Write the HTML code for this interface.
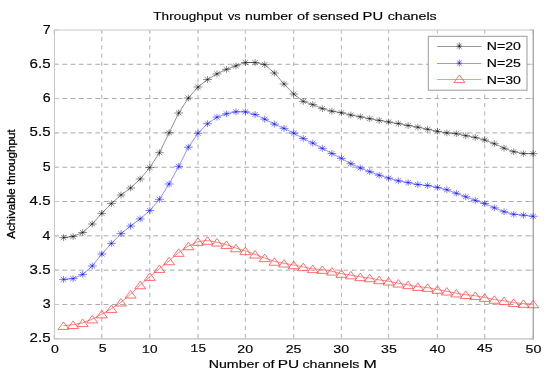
<!DOCTYPE html><html><head><meta charset="utf-8"><style>html,body{margin:0;padding:0;background:#fff;width:550px;height:375px;overflow:hidden}svg{display:block}text{font-family:"Liberation Sans",Arial,sans-serif;fill:#000;stroke:#000;stroke-width:0.15px}</style></head><body>
<svg width="550" height="375" viewBox="0 0 550 375">
<rect width="550" height="375" fill="#fff"/>
<path d="M101.80 30.00V338.90M149.80 30.00V338.90M198.00 30.00V338.90M245.40 30.00V338.90M293.70 30.00V338.90M341.40 30.00V338.90M388.60 30.00V338.90M437.40 30.00V338.90M484.70 30.00V338.90" stroke="#b0b0b0" stroke-width="1" stroke-dasharray="4.2 4.05" stroke-dashoffset="1.2" fill="none"/>
<path d="M54.0 304.48H533.30M54.0 270.17H533.30M54.0 235.85H533.30M54.0 201.53H533.30M54.0 167.22H533.30M54.0 132.90H533.30M54.0 98.58H533.30M54.0 64.27H533.30" stroke="#a8a8a8" stroke-width="1" stroke-dasharray="4.8 3.47" fill="none"/>
<path d="M54.00 338.90v-4M54.00 30.00v4M101.80 338.90v-4M101.80 30.00v4M149.80 338.90v-4M149.80 30.00v4M198.00 338.90v-4M198.00 30.00v4M245.40 338.90v-4M245.40 30.00v4M293.70 338.90v-4M293.70 30.00v4M341.40 338.90v-4M341.40 30.00v4M388.60 338.90v-4M388.60 30.00v4M437.40 338.90v-4M437.40 30.00v4M484.70 338.90v-4M484.70 30.00v4M533.10 338.90v-4M533.10 30.00v4M54.50 338.80h4M533.30 338.80h-4M54.50 304.48h4M533.30 304.48h-4M54.50 270.17h4M533.30 270.17h-4M54.50 235.85h4M533.30 235.85h-4M54.50 201.53h4M533.30 201.53h-4M54.50 167.22h4M533.30 167.22h-4M54.50 132.90h4M533.30 132.90h-4M54.50 98.58h4M533.30 98.58h-4M54.50 64.27h4M533.30 64.27h-4M54.50 29.95h4M533.30 29.95h-4" stroke="#c8c8c8" stroke-width="1" fill="none"/>
<path d="M54.5 30.0H533.3" stroke="#c8c8c8" stroke-width="1.2"/>
<path d="M54.5 338.9H533.3" stroke="#c0c0c0" stroke-width="1.2"/>
<path d="M54.5 29.4V339.5" stroke="#c8c8c8" stroke-width="1"/>
<path d="M533.3 29.4V339.5" stroke="#a8a8a8" stroke-width="1.4"/>
<polyline points="63.56,325.70 73.12,324.70 82.68,322.80 92.24,319.20 101.80,314.10 111.40,308.80 121.00,302.30 130.60,294.30 140.20,285.00 149.80,276.70 159.44,268.70 169.08,261.00 178.72,252.60 188.36,246.00 198.00,241.60 207.48,240.50 216.96,242.30 226.44,244.70 235.92,248.00 245.40,250.90 255.06,254.30 264.72,257.90 274.38,261.50 284.04,263.30 293.70,265.00 303.24,266.90 312.78,268.90 322.32,269.60 331.86,271.30 341.40,273.60 350.84,275.10 360.28,276.90 369.72,278.00 379.16,279.90 388.60,281.30 398.36,283.30 408.12,284.90 417.88,286.70 427.64,287.60 437.40,289.60 446.86,291.30 456.32,293.20 465.78,294.70 475.24,295.70 484.70,297.60 494.38,299.50 504.06,300.80 513.74,302.70 523.42,303.60 533.10,304.00" stroke="#ff7a7a" stroke-width="0.9" fill="none"/>
<path d="M63.56 321.95L69.06 329.45L58.06 329.45ZM73.12 320.95L78.62 328.45L67.62 328.45ZM82.68 319.05L88.18 326.55L77.18 326.55ZM92.24 315.45L97.74 322.95L86.74 322.95ZM101.80 310.35L107.30 317.85L96.30 317.85ZM111.40 305.05L116.90 312.55L105.90 312.55ZM121.00 298.55L126.50 306.05L115.50 306.05ZM130.60 290.55L136.10 298.05L125.10 298.05ZM140.20 281.25L145.70 288.75L134.70 288.75ZM149.80 272.95L155.30 280.45L144.30 280.45ZM159.44 264.95L164.94 272.45L153.94 272.45ZM169.08 257.25L174.58 264.75L163.58 264.75ZM178.72 248.85L184.22 256.35L173.22 256.35ZM188.36 242.25L193.86 249.75L182.86 249.75ZM198.00 237.85L203.50 245.35L192.50 245.35ZM207.48 236.75L212.98 244.25L201.98 244.25ZM216.96 238.55L222.46 246.05L211.46 246.05ZM226.44 240.95L231.94 248.45L220.94 248.45ZM235.92 244.25L241.42 251.75L230.42 251.75ZM245.40 247.15L250.90 254.65L239.90 254.65ZM255.06 250.55L260.56 258.05L249.56 258.05ZM264.72 254.15L270.22 261.65L259.22 261.65ZM274.38 257.75L279.88 265.25L268.88 265.25ZM284.04 259.55L289.54 267.05L278.54 267.05ZM293.70 261.25L299.20 268.75L288.20 268.75ZM303.24 263.15L308.74 270.65L297.74 270.65ZM312.78 265.15L318.28 272.65L307.28 272.65ZM322.32 265.85L327.82 273.35L316.82 273.35ZM331.86 267.55L337.36 275.05L326.36 275.05ZM341.40 269.85L346.90 277.35L335.90 277.35ZM350.84 271.35L356.34 278.85L345.34 278.85ZM360.28 273.15L365.78 280.65L354.78 280.65ZM369.72 274.25L375.22 281.75L364.22 281.75ZM379.16 276.15L384.66 283.65L373.66 283.65ZM388.60 277.55L394.10 285.05L383.10 285.05ZM398.36 279.55L403.86 287.05L392.86 287.05ZM408.12 281.15L413.62 288.65L402.62 288.65ZM417.88 282.95L423.38 290.45L412.38 290.45ZM427.64 283.85L433.14 291.35L422.14 291.35ZM437.40 285.85L442.90 293.35L431.90 293.35ZM446.86 287.55L452.36 295.05L441.36 295.05ZM456.32 289.45L461.82 296.95L450.82 296.95ZM465.78 290.95L471.28 298.45L460.28 298.45ZM475.24 291.95L480.74 299.45L469.74 299.45ZM484.70 293.85L490.20 301.35L479.20 301.35ZM494.38 295.75L499.88 303.25L488.88 303.25ZM504.06 297.05L509.56 304.55L498.56 304.55ZM513.74 298.95L519.24 306.45L508.24 306.45ZM523.42 299.85L528.92 307.35L517.92 307.35ZM533.10 300.25L538.60 307.75L527.60 307.75Z" stroke="#ff4a4a" stroke-width="0.8" fill="none"/>
<polyline points="63.56,279.40 73.12,278.60 82.68,274.40 92.24,266.00 101.80,254.00 111.40,243.40 121.00,233.60 130.60,226.00 140.20,218.90 149.80,210.50 159.44,199.30 169.08,184.00 178.72,166.40 188.36,147.20 198.00,133.30 207.48,123.70 216.96,117.20 226.44,113.80 235.92,111.80 245.40,111.80 255.06,114.50 264.72,119.20 274.38,124.10 284.04,128.40 293.70,133.20 303.24,138.50 312.78,143.10 322.32,148.40 331.86,153.50 341.40,158.40 350.84,163.70 360.28,168.00 369.72,171.70 379.16,175.20 388.60,178.10 398.36,180.80 408.12,182.60 417.88,184.50 427.64,185.50 437.40,187.40 446.86,189.80 456.32,193.30 465.78,196.80 475.24,200.40 484.70,203.50 494.38,207.80 504.06,211.70 513.74,214.30 523.42,215.20 533.10,216.30" stroke="#6a6aff" stroke-width="0.75" fill="none"/>
<path d="M59.16 279.40H67.96M63.56 276.00V282.80M60.76 277.00L66.36 281.80M60.76 281.80L66.36 277.00M68.72 278.60H77.52M73.12 275.20V282.00M70.32 276.20L75.92 281.00M70.32 281.00L75.92 276.20M78.28 274.40H87.08M82.68 271.00V277.80M79.88 272.00L85.48 276.80M79.88 276.80L85.48 272.00M87.84 266.00H96.64M92.24 262.60V269.40M89.44 263.60L95.04 268.40M89.44 268.40L95.04 263.60M97.40 254.00H106.20M101.80 250.60V257.40M99.00 251.60L104.60 256.40M99.00 256.40L104.60 251.60M107.00 243.40H115.80M111.40 240.00V246.80M108.60 241.00L114.20 245.80M108.60 245.80L114.20 241.00M116.60 233.60H125.40M121.00 230.20V237.00M118.20 231.20L123.80 236.00M118.20 236.00L123.80 231.20M126.20 226.00H135.00M130.60 222.60V229.40M127.80 223.60L133.40 228.40M127.80 228.40L133.40 223.60M135.80 218.90H144.60M140.20 215.50V222.30M137.40 216.50L143.00 221.30M137.40 221.30L143.00 216.50M145.40 210.50H154.20M149.80 207.10V213.90M147.00 208.10L152.60 212.90M147.00 212.90L152.60 208.10M155.04 199.30H163.84M159.44 195.90V202.70M156.64 196.90L162.24 201.70M156.64 201.70L162.24 196.90M164.68 184.00H173.48M169.08 180.60V187.40M166.28 181.60L171.88 186.40M166.28 186.40L171.88 181.60M174.32 166.40H183.12M178.72 163.00V169.80M175.92 164.00L181.52 168.80M175.92 168.80L181.52 164.00M183.96 147.20H192.76M188.36 143.80V150.60M185.56 144.80L191.16 149.60M185.56 149.60L191.16 144.80M193.60 133.30H202.40M198.00 129.90V136.70M195.20 130.90L200.80 135.70M195.20 135.70L200.80 130.90M203.08 123.70H211.88M207.48 120.30V127.10M204.68 121.30L210.28 126.10M204.68 126.10L210.28 121.30M212.56 117.20H221.36M216.96 113.80V120.60M214.16 114.80L219.76 119.60M214.16 119.60L219.76 114.80M222.04 113.80H230.84M226.44 110.40V117.20M223.64 111.40L229.24 116.20M223.64 116.20L229.24 111.40M231.52 111.80H240.32M235.92 108.40V115.20M233.12 109.40L238.72 114.20M233.12 114.20L238.72 109.40M241.00 111.80H249.80M245.40 108.40V115.20M242.60 109.40L248.20 114.20M242.60 114.20L248.20 109.40M250.66 114.50H259.46M255.06 111.10V117.90M252.26 112.10L257.86 116.90M252.26 116.90L257.86 112.10M260.32 119.20H269.12M264.72 115.80V122.60M261.92 116.80L267.52 121.60M261.92 121.60L267.52 116.80M269.98 124.10H278.78M274.38 120.70V127.50M271.58 121.70L277.18 126.50M271.58 126.50L277.18 121.70M279.64 128.40H288.44M284.04 125.00V131.80M281.24 126.00L286.84 130.80M281.24 130.80L286.84 126.00M289.30 133.20H298.10M293.70 129.80V136.60M290.90 130.80L296.50 135.60M290.90 135.60L296.50 130.80M298.84 138.50H307.64M303.24 135.10V141.90M300.44 136.10L306.04 140.90M300.44 140.90L306.04 136.10M308.38 143.10H317.18M312.78 139.70V146.50M309.98 140.70L315.58 145.50M309.98 145.50L315.58 140.70M317.92 148.40H326.72M322.32 145.00V151.80M319.52 146.00L325.12 150.80M319.52 150.80L325.12 146.00M327.46 153.50H336.26M331.86 150.10V156.90M329.06 151.10L334.66 155.90M329.06 155.90L334.66 151.10M337.00 158.40H345.80M341.40 155.00V161.80M338.60 156.00L344.20 160.80M338.60 160.80L344.20 156.00M346.44 163.70H355.24M350.84 160.30V167.10M348.04 161.30L353.64 166.10M348.04 166.10L353.64 161.30M355.88 168.00H364.68M360.28 164.60V171.40M357.48 165.60L363.08 170.40M357.48 170.40L363.08 165.60M365.32 171.70H374.12M369.72 168.30V175.10M366.92 169.30L372.52 174.10M366.92 174.10L372.52 169.30M374.76 175.20H383.56M379.16 171.80V178.60M376.36 172.80L381.96 177.60M376.36 177.60L381.96 172.80M384.20 178.10H393.00M388.60 174.70V181.50M385.80 175.70L391.40 180.50M385.80 180.50L391.40 175.70M393.96 180.80H402.76M398.36 177.40V184.20M395.56 178.40L401.16 183.20M395.56 183.20L401.16 178.40M403.72 182.60H412.52M408.12 179.20V186.00M405.32 180.20L410.92 185.00M405.32 185.00L410.92 180.20M413.48 184.50H422.28M417.88 181.10V187.90M415.08 182.10L420.68 186.90M415.08 186.90L420.68 182.10M423.24 185.50H432.04M427.64 182.10V188.90M424.84 183.10L430.44 187.90M424.84 187.90L430.44 183.10M433.00 187.40H441.80M437.40 184.00V190.80M434.60 185.00L440.20 189.80M434.60 189.80L440.20 185.00M442.46 189.80H451.26M446.86 186.40V193.20M444.06 187.40L449.66 192.20M444.06 192.20L449.66 187.40M451.92 193.30H460.72M456.32 189.90V196.70M453.52 190.90L459.12 195.70M453.52 195.70L459.12 190.90M461.38 196.80H470.18M465.78 193.40V200.20M462.98 194.40L468.58 199.20M462.98 199.20L468.58 194.40M470.84 200.40H479.64M475.24 197.00V203.80M472.44 198.00L478.04 202.80M472.44 202.80L478.04 198.00M480.30 203.50H489.10M484.70 200.10V206.90M481.90 201.10L487.50 205.90M481.90 205.90L487.50 201.10M489.98 207.80H498.78M494.38 204.40V211.20M491.58 205.40L497.18 210.20M491.58 210.20L497.18 205.40M499.66 211.70H508.46M504.06 208.30V215.10M501.26 209.30L506.86 214.10M501.26 214.10L506.86 209.30M509.34 214.30H518.14M513.74 210.90V217.70M510.94 211.90L516.54 216.70M510.94 216.70L516.54 211.90M519.02 215.20H527.82M523.42 211.80V218.60M520.62 212.80L526.22 217.60M520.62 217.60L526.22 212.80M528.70 216.30H537.50M533.10 212.90V219.70M530.30 213.90L535.90 218.70M530.30 218.70L535.90 213.90" stroke="#0000ff" stroke-width="0.5" fill="none"/>
<polyline points="63.56,237.60 73.12,236.60 82.68,232.50 92.24,224.00 101.80,213.40 111.40,203.60 121.00,195.00 130.60,188.00 140.20,179.00 149.80,167.60 159.44,152.70 169.08,132.80 178.72,113.00 188.36,98.00 198.00,87.00 207.48,79.50 216.96,73.90 226.44,69.40 235.92,65.90 245.40,62.50 255.06,62.50 264.72,64.60 274.38,73.00 284.04,84.00 293.70,94.00 303.24,101.40 312.78,104.60 322.32,108.60 331.86,111.20 341.40,112.70 350.84,115.00 360.28,116.80 369.72,118.70 379.16,120.40 388.60,122.00 398.36,123.60 408.12,125.50 417.88,127.20 427.64,129.30 437.40,131.30 446.86,132.90 456.32,133.70 465.78,135.70 475.24,137.40 484.70,140.00 494.38,143.70 504.06,148.20 513.74,151.70 523.42,153.60 533.10,153.60" stroke="#606060" stroke-width="0.7" fill="none"/>
<path d="M59.16 237.60H67.96M63.56 234.20V241.00M60.76 235.20L66.36 240.00M60.76 240.00L66.36 235.20M68.72 236.60H77.52M73.12 233.20V240.00M70.32 234.20L75.92 239.00M70.32 239.00L75.92 234.20M78.28 232.50H87.08M82.68 229.10V235.90M79.88 230.10L85.48 234.90M79.88 234.90L85.48 230.10M87.84 224.00H96.64M92.24 220.60V227.40M89.44 221.60L95.04 226.40M89.44 226.40L95.04 221.60M97.40 213.40H106.20M101.80 210.00V216.80M99.00 211.00L104.60 215.80M99.00 215.80L104.60 211.00M107.00 203.60H115.80M111.40 200.20V207.00M108.60 201.20L114.20 206.00M108.60 206.00L114.20 201.20M116.60 195.00H125.40M121.00 191.60V198.40M118.20 192.60L123.80 197.40M118.20 197.40L123.80 192.60M126.20 188.00H135.00M130.60 184.60V191.40M127.80 185.60L133.40 190.40M127.80 190.40L133.40 185.60M135.80 179.00H144.60M140.20 175.60V182.40M137.40 176.60L143.00 181.40M137.40 181.40L143.00 176.60M145.40 167.60H154.20M149.80 164.20V171.00M147.00 165.20L152.60 170.00M147.00 170.00L152.60 165.20M155.04 152.70H163.84M159.44 149.30V156.10M156.64 150.30L162.24 155.10M156.64 155.10L162.24 150.30M164.68 132.80H173.48M169.08 129.40V136.20M166.28 130.40L171.88 135.20M166.28 135.20L171.88 130.40M174.32 113.00H183.12M178.72 109.60V116.40M175.92 110.60L181.52 115.40M175.92 115.40L181.52 110.60M183.96 98.00H192.76M188.36 94.60V101.40M185.56 95.60L191.16 100.40M185.56 100.40L191.16 95.60M193.60 87.00H202.40M198.00 83.60V90.40M195.20 84.60L200.80 89.40M195.20 89.40L200.80 84.60M203.08 79.50H211.88M207.48 76.10V82.90M204.68 77.10L210.28 81.90M204.68 81.90L210.28 77.10M212.56 73.90H221.36M216.96 70.50V77.30M214.16 71.50L219.76 76.30M214.16 76.30L219.76 71.50M222.04 69.40H230.84M226.44 66.00V72.80M223.64 67.00L229.24 71.80M223.64 71.80L229.24 67.00M231.52 65.90H240.32M235.92 62.50V69.30M233.12 63.50L238.72 68.30M233.12 68.30L238.72 63.50M241.00 62.50H249.80M245.40 59.10V65.90M242.60 60.10L248.20 64.90M242.60 64.90L248.20 60.10M250.66 62.50H259.46M255.06 59.10V65.90M252.26 60.10L257.86 64.90M252.26 64.90L257.86 60.10M260.32 64.60H269.12M264.72 61.20V68.00M261.92 62.20L267.52 67.00M261.92 67.00L267.52 62.20M269.98 73.00H278.78M274.38 69.60V76.40M271.58 70.60L277.18 75.40M271.58 75.40L277.18 70.60M279.64 84.00H288.44M284.04 80.60V87.40M281.24 81.60L286.84 86.40M281.24 86.40L286.84 81.60M289.30 94.00H298.10M293.70 90.60V97.40M290.90 91.60L296.50 96.40M290.90 96.40L296.50 91.60M298.84 101.40H307.64M303.24 98.00V104.80M300.44 99.00L306.04 103.80M300.44 103.80L306.04 99.00M308.38 104.60H317.18M312.78 101.20V108.00M309.98 102.20L315.58 107.00M309.98 107.00L315.58 102.20M317.92 108.60H326.72M322.32 105.20V112.00M319.52 106.20L325.12 111.00M319.52 111.00L325.12 106.20M327.46 111.20H336.26M331.86 107.80V114.60M329.06 108.80L334.66 113.60M329.06 113.60L334.66 108.80M337.00 112.70H345.80M341.40 109.30V116.10M338.60 110.30L344.20 115.10M338.60 115.10L344.20 110.30M346.44 115.00H355.24M350.84 111.60V118.40M348.04 112.60L353.64 117.40M348.04 117.40L353.64 112.60M355.88 116.80H364.68M360.28 113.40V120.20M357.48 114.40L363.08 119.20M357.48 119.20L363.08 114.40M365.32 118.70H374.12M369.72 115.30V122.10M366.92 116.30L372.52 121.10M366.92 121.10L372.52 116.30M374.76 120.40H383.56M379.16 117.00V123.80M376.36 118.00L381.96 122.80M376.36 122.80L381.96 118.00M384.20 122.00H393.00M388.60 118.60V125.40M385.80 119.60L391.40 124.40M385.80 124.40L391.40 119.60M393.96 123.60H402.76M398.36 120.20V127.00M395.56 121.20L401.16 126.00M395.56 126.00L401.16 121.20M403.72 125.50H412.52M408.12 122.10V128.90M405.32 123.10L410.92 127.90M405.32 127.90L410.92 123.10M413.48 127.20H422.28M417.88 123.80V130.60M415.08 124.80L420.68 129.60M415.08 129.60L420.68 124.80M423.24 129.30H432.04M427.64 125.90V132.70M424.84 126.90L430.44 131.70M424.84 131.70L430.44 126.90M433.00 131.30H441.80M437.40 127.90V134.70M434.60 128.90L440.20 133.70M434.60 133.70L440.20 128.90M442.46 132.90H451.26M446.86 129.50V136.30M444.06 130.50L449.66 135.30M444.06 135.30L449.66 130.50M451.92 133.70H460.72M456.32 130.30V137.10M453.52 131.30L459.12 136.10M453.52 136.10L459.12 131.30M461.38 135.70H470.18M465.78 132.30V139.10M462.98 133.30L468.58 138.10M462.98 138.10L468.58 133.30M470.84 137.40H479.64M475.24 134.00V140.80M472.44 135.00L478.04 139.80M472.44 139.80L478.04 135.00M480.30 140.00H489.10M484.70 136.60V143.40M481.90 137.60L487.50 142.40M481.90 142.40L487.50 137.60M489.98 143.70H498.78M494.38 140.30V147.10M491.58 141.30L497.18 146.10M491.58 146.10L497.18 141.30M499.66 148.20H508.46M504.06 144.80V151.60M501.26 145.80L506.86 150.60M501.26 150.60L506.86 145.80M509.34 151.70H518.14M513.74 148.30V155.10M510.94 149.30L516.54 154.10M510.94 154.10L516.54 149.30M519.02 153.60H527.82M523.42 150.20V157.00M520.62 151.20L526.22 156.00M520.62 156.00L526.22 151.20M528.70 153.60H537.50M533.10 150.20V157.00M530.30 151.20L535.90 156.00M530.30 156.00L535.90 151.20" stroke="#000" stroke-width="0.45" fill="none"/>
<rect x="428.3" y="36.3" width="98.7" height="53.9" fill="#fff" stroke="#9a9a9a" stroke-width="1"/>
<path d="M437 46.5H481.4" stroke="#8a8a8a" stroke-width="0.9"/>
<path d="M456.50 46.00H462.10M459.30 42.40V49.60M457.10 43.40L461.50 48.60M457.10 48.60L461.50 43.40" stroke="#000" stroke-width="0.5" fill="none"/>
<text transform="translate(486.87 50.11) scale(1.2478 1)" font-size="11.30">N=20</text>
<path d="M437 63.5H481.4" stroke="#8a8aff" stroke-width="0.9"/>
<path d="M456.50 63.00H462.10M459.30 59.40V66.60M457.10 60.40L461.50 65.60M457.10 65.60L461.50 60.40" stroke="#0000ff" stroke-width="0.5" fill="none"/>
<text transform="translate(486.87 67.31) scale(1.2478 1)" font-size="11.30">N=25</text>
<path d="M437 79.5H481.4" stroke="#ff8a8a" stroke-width="0.9"/>
<path d="M459.40 75.00L464.90 82.60L453.90 82.60Z" stroke="#ff4a4a" stroke-width="0.8" fill="none"/>
<text transform="translate(486.87 83.71) scale(1.2478 1)" font-size="11.30">N=30</text>
<text transform="translate(50.97 352.59) scale(1.2137 1)" font-size="11.70">0</text>
<text transform="translate(98.80 352.47) scale(1.2137 1)" font-size="11.70">5</text>
<text transform="translate(141.84 352.59) scale(1.1624 1)" font-size="11.70"><tspan font-family="WenQuanYi Zen Hei">1</tspan>0</text>
<text transform="translate(190.36 352.47) scale(1.1624 1)" font-size="11.70"><tspan font-family="WenQuanYi Zen Hei">1</tspan>5</text>
<text transform="translate(237.30 352.59) scale(1.2137 1)" font-size="11.70">20</text>
<text transform="translate(285.70 352.59) scale(1.2137 1)" font-size="11.70">25</text>
<text transform="translate(333.37 352.59) scale(1.2137 1)" font-size="11.70">30</text>
<text transform="translate(381.12 352.59) scale(1.2137 1)" font-size="11.70">35</text>
<text transform="translate(429.56 352.59) scale(1.2137 1)" font-size="11.70">40</text>
<text transform="translate(476.81 352.47) scale(1.2137 1)" font-size="11.70">45</text>
<text transform="translate(525.52 352.59) scale(1.2137 1)" font-size="11.70">50</text>
<text transform="translate(29.57 342.44) scale(1.2583 1)" font-size="12.00">2.5</text>
<text transform="translate(42.71 308.12) scale(1.1833 1)" font-size="12.00">3</text>
<text transform="translate(29.57 273.81) scale(1.2583 1)" font-size="12.00">3.5</text>
<text transform="translate(42.42 239.55) scale(1.1833 1)" font-size="12.00">4</text>
<text transform="translate(29.57 205.11) scale(1.2583 1)" font-size="12.00">4.5</text>
<text transform="translate(42.71 170.80) scale(1.1833 1)" font-size="12.00">5</text>
<text transform="translate(29.57 136.48) scale(1.2583 1)" font-size="12.00">5.5</text>
<text transform="translate(42.71 102.22) scale(1.1833 1)" font-size="12.00">6</text>
<text transform="translate(29.57 67.91) scale(1.2583 1)" font-size="12.00">6.5</text>
<text transform="translate(42.71 33.65) scale(1.1833 1)" font-size="12.00">7</text>
<text transform="translate(153.33 19.70) scale(1.1686 1)" font-size="11.60">Throughput</text>
<text transform="translate(227.97 19.70) scale(1.0889 1)" font-size="11.60">vs</text>
<text transform="translate(245.12 19.70) scale(1.2095 1)" font-size="11.60">number</text>
<text transform="translate(296.90 19.70) scale(1.2586 1)" font-size="11.60">of</text>
<text transform="translate(312.77 19.70) scale(1.2339 1)" font-size="11.60">sensed</text>
<text transform="translate(362.62 19.70) scale(1.2756 1)" font-size="11.60">PU</text>
<text transform="translate(387.63 19.70) scale(1.2279 1)" font-size="11.60">chanels</text>
<text transform="translate(208.76 367.50) scale(1.2784 1)" font-size="11.10">Number</text>
<text transform="translate(262.50 367.50) scale(1.3153 1)" font-size="11.10">of</text>
<text transform="translate(277.76 367.50) scale(1.3916 1)" font-size="11.10">PU</text>
<text transform="translate(302.43 367.50) scale(1.2837 1)" font-size="11.10">channels</text>
<text transform="translate(363.52 367.50) scale(1.4388 1)" font-size="11.10">M</text>
<text transform="translate(15.31 238.70) rotate(-90) scale(1.0879 1)" font-size="10.70" style="stroke-width:0.3px">Achivable throughput</text>
</svg></body></html>
